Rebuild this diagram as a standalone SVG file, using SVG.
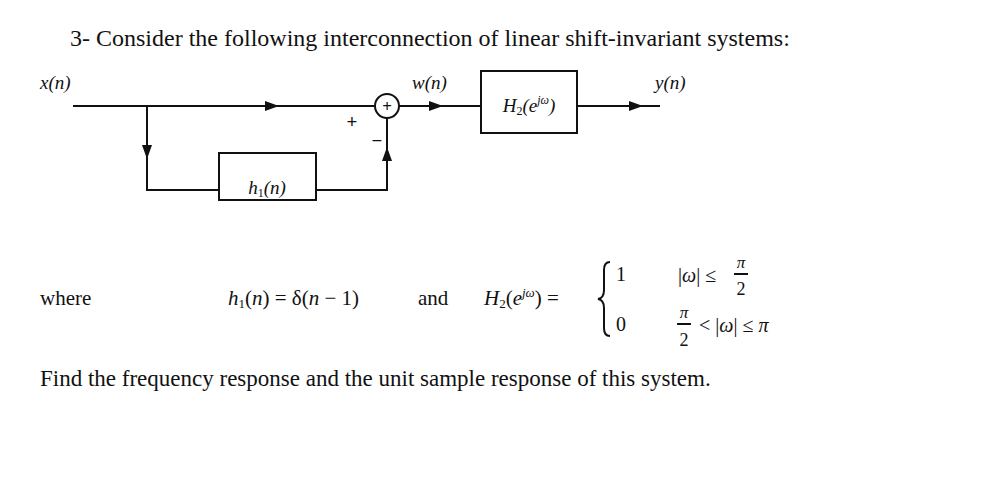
<svg xmlns="http://www.w3.org/2000/svg" width="998" height="499" viewBox="0 0 998 499">
<style>
.t{font-family:"Liberation Serif",serif;fill:#111}
.l{stroke:#111;stroke-width:2;fill:none}
</style>
<defs><marker id="a" markerWidth="14" markerHeight="10" refX="7" refY="5" orient="auto" markerUnits="userSpaceOnUse"><path d="M0,0L14,5L0,10Z" fill="#111"/></marker></defs>
<rect width="998" height="499" fill="#fff"/>
<text class="t" x="70" y="46" font-size="24">3-  Consider the following interconnection of linear shift-invariant systems:</text>
<g id="connectors">
<path class="l" d="M73,106H272" marker-end="url(#a)"/><path class="l" d="M265,106H375"/>
<path class="l" d="M147,106V152" marker-end="url(#a)"/><path class="l" d="M147,148V190H219"/>
<path class="l" d="M316,190H387V154" marker-end="url(#a)"/><path class="l" d="M387,160V118"/>
<path class="l" d="M399,106H436" marker-end="url(#a)"/><path class="l" d="M430,106H481"/>
<path class="l" d="M577,106H636" marker-end="url(#a)"/><path class="l" d="M630,106H660"/>
</g>
<g id="sum"><circle class="l" cx="387" cy="106" r="12"/><text class="t" x="387" y="112" font-size="17" text-anchor="middle" font-weight="bold" font-family="Liberation Sans,sans-serif">+</text>
<text class="t" x="352" y="128" font-size="19" text-anchor="middle" font-weight="bold" font-family="Liberation Sans,sans-serif">+</text>
<text class="t" x="377" y="147" font-size="19" text-anchor="middle" font-weight="bold" font-family="Liberation Sans,sans-serif">−</text></g>
<g id="h1"><rect class="l" x="219" y="153" width="97" height="47"/><text class="t" x="267" y="194" font-size="19" text-anchor="middle" font-style="italic">h<tspan font-size="12" font-style="normal" dy="3">1</tspan><tspan dy="-3">(n)</tspan></text></g>
<g id="H2"><rect class="l" x="481" y="71" width="96" height="62"/><text class="t" x="529" y="112" font-size="19" text-anchor="middle" font-style="italic">H<tspan font-size="12" font-style="normal" dy="3">2</tspan><tspan dy="-3">(e</tspan><tspan font-size="12" dy="-8">jω</tspan><tspan dy="8">)</tspan></text></g>
<g id="labels">
<text class="t" x="40" y="89" font-size="19" font-style="italic">x(n)</text><text class="t" x="412" y="89" font-size="19" font-style="italic">w(n)</text><text class="t" x="655" y="89" font-size="19" font-style="italic">y(n)</text></g>
<text class="t" x="40" y="305" font-size="21">where</text>
<text class="t" x="228" y="305" font-size="21"><tspan font-style="italic">h</tspan><tspan font-size="13" dy="3">1</tspan><tspan dy="-3">(</tspan><tspan font-style="italic">n</tspan>) = δ(<tspan font-style="italic">n</tspan> − 1)</text>
<text class="t" x="418" y="305" font-size="21">and</text>
<text class="t" x="484" y="305" font-size="21"><tspan font-style="italic">H</tspan><tspan font-size="13" dy="3">2</tspan><tspan dy="-3">(</tspan><tspan font-style="italic">e</tspan><tspan font-size="13" font-style="italic" dy="-8">jω</tspan><tspan dy="8">) =</tspan></text>
<path d="M610,262q-6,0 -6,8v20q0,8 -6,9q6,1 6,9v20q0,8 6,8" class="l"/>
<text class="t" x="616" y="281" font-size="20">1</text><text class="t" x="616" y="331" font-size="20">0</text>
<text class="t" x="678" y="282" font-size="20">|<tspan font-style="italic">ω</tspan>| ≤</text>
<text class="t" x="741" y="268" font-size="17" text-anchor="middle" font-style="italic">π</text><path class="l" stroke-width="1" d="M734,274H748"/><text class="t" x="741" y="295" font-size="18" text-anchor="middle">2</text>
<text class="t" x="684" y="318" font-size="17" text-anchor="middle" font-style="italic">π</text><path class="l" stroke-width="1" d="M677,324H691"/><text class="t" x="684" y="346" font-size="18" text-anchor="middle">2</text>
<text class="t" x="699" y="332" font-size="20">&lt; |<tspan font-style="italic">ω</tspan>| ≤ <tspan font-style="italic">π</tspan></text>
<text class="t" x="40" y="386" font-size="23">Find the frequency response and the unit sample response of this system.</text>
</svg>
